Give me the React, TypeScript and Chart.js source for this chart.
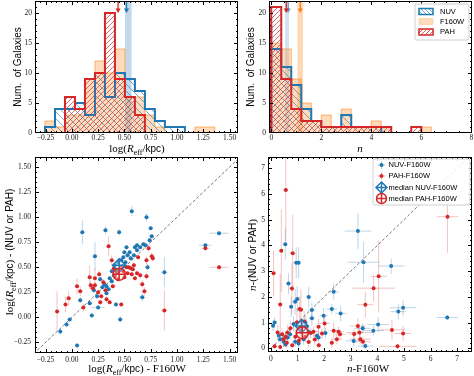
import React, { useEffect, useRef } from 'react';
import { Chart, registerables } from 'chart.js';

Chart.register(...registerables);

// ---------------- data ----------------
const LOGR_BIN_EDGES = [-0.35, -0.255, -0.16, -0.065, 0.03, 0.125, 0.22, 0.315, 0.41, 0.505, 0.6, 0.695, 0.79, 0.885, 0.98, 1.075, 1.17, 1.265, 1.36, 1.455, 1.55];
const LOGR_NUV_COUNTS = [1, 0, 1, 4, 4, 5, 3, 10, 6, 10, 9, 7, 4, 2, 1, 1, 0, 0, 0, 0];
const LOGR_F160_COUNTS = [0, 0, 2, 1, 3, 3, 9, 12, 10, 14, 6, 6, 3, 1, 0, 0, 0, 1, 1, 0];
const LOGR_PAH_COUNTS = [0, 0, 0, 0, 6, 4, 9, 10, 20, 9, 6, 3, 0, 0, 0, 0, 0, 0, 0, 0];

const N_BIN_EDGES = [0, 0.4, 0.8, 1.2, 1.6, 2.0, 2.4, 2.8, 3.2, 3.6, 4.0, 4.4, 4.8, 5.2, 5.6, 6.0, 6.4, 6.8, 7.2, 7.6, 8.0];
const N_NUV_COUNTS = [18, 14, 11, 8, 4, 2, 1, 1, 3, 1, 1, 1, 0, 0, 0, 0, 0, 0, 0, 0];
const N_F160_COUNTS = [5, 15, 14, 9, 5, 2, 3, 1, 4, 1, 1, 2, 1, 0, 0, 0, 1, 0, 0, 0];
const N_PAH_COUNTS = [20, 21, 9, 4, 2, 2, 1, 1, 1, 1, 1, 1, 1, 0, 0, 1, 0, 0, 0, 0];

const LOGR_MEDIAN_NUV = 0.52;
const LOGR_MEDIAN_PAH = 0.44;
const LOGR_NUV_BAND = [0.505, 0.57];
const N_MEDIAN_NUV = 0.68;
const N_MEDIAN_PAH = 0.6;
const N_MEDIAN_F160 = 1.16;
const N_NUV_BAND = [0.55, 0.72];
const N_F160_BAND = [1.04, 1.28];

const LOGR_TICKS = [-0.25, 0, 0.25, 0.5, 0.75, 1.0, 1.25, 1.5];
const LOGR_TICK_LABELS = ['\u22120.25', '0.00', '0.25', '0.50', '0.75', '1.00', '1.25', '1.50'];
const COUNT_TICKS = [0, 5, 10, 15, 20];
const COUNT_TICK_LABELS = ['0', '5', '10', '15', '20'];
const NHIST_TICKS = [0, 2, 4, 6, 8];
const NHIST_TICK_LABELS = ['0', '2', '4', '6', '8'];
const N_TICKS = [0, 1, 2, 3, 4, 5, 6, 7];
const N_TICK_LABELS = ['0', '1', '2', '3', '4', '5', '6', '7'];

// log(Reff) scatter: NUV vs F160W
const BL_NUV_X = [-0.11, -0.05, -0.02, 0.05, 0.08, 0.10, 0.17, 0.19, 0.22, 0.25, 0.24, 0.32, 0.33, 0.33, 0.38, 0.40, 0.42, 0.45, 0.46, 0.50, 0.52, 0.55, 0.57, 0.59, 0.60, 0.62, 0.65, 0.68, 0.70, 0.71, 0.72, 0.74, 0.75, 0.76, 0.67, 0.88, 1.27, 1.40, 0.27, 0.31, 0.36, 0.42, 0.44, 0.47, 0.49, 0.53, 0.56, 0.35, 0.29, 0.41, 0.21, 0.62, 0.51, 0.38];
const BL_NUV_Y = [-0.14, -0.07, -0.02, -0.28, 0.17, 0.85, 0.14, 0.02, 0.61, 0.10, 0.21, 0.87, 0.24, 0.31, 0.36, 0.42, 0.13, 0.85, -0.02, 0.65, 0.70, 0.65, 1.06, 0.62, 0.70, 0.67, 0.70, 0.73, 0.72, 1.00, 0.50, 0.77, 0.89, 0.81, 0.20, 0.45, 0.72, 0.84, 0.38, 0.33, 0.39, 0.47, 0.55, 0.57, 0.60, 0.62, 0.59, 0.28, 0.30, 0.52, 0.27, 0.72, 0.55, 0.46];
const BL_NUV_XERR = [0.02, 0.02, 0.02, 0.02, 0.02, 0.02, 0.02, 0.02, 0.02, 0.06, 0.02, 0.02, 0.02, 0.02, 0.02, 0.02, 0.02, 0.02, 0.02, 0.02, 0.02, 0.02, 0.02, 0.02, 0.02, 0.02, 0.02, 0.02, 0.02, 0.02, 0.02, 0.02, 0.02, 0.02, 0.03, 0.03, 0.06, 0.09, 0.02, 0.02, 0.02, 0.02, 0.02, 0.02, 0.02, 0.02, 0.02, 0.02, 0.02, 0.02, 0.02, 0.02, 0.02, 0.02];
const BL_NUV_YERR = [0.03, 0.02, 0.02, 0.02, 0.03, 0.12, 0.02, 0.03, 0.14, 0.02, 0.03, 0.04, 0.02, 0.02, 0.02, 0.03, 0.02, 0.03, 0.03, 0.02, 0.02, 0.02, 0.05, 0.02, 0.02, 0.02, 0.02, 0.02, 0.03, 0.04, 0.03, 0.02, 0.02, 0.02, 0.04, 0.15, 0.02, 0.02, 0.02, 0.02, 0.02, 0.02, 0.02, 0.02, 0.02, 0.02, 0.02, 0.02, 0.02, 0.02, 0.02, 0.02, 0.02, 0.02];
// log(Reff) scatter: PAH vs F160W
const BL_PAH_X = [-0.14, -0.06, -0.03, 0.05, 0.08, 0.11, 0.17, 0.18, 0.22, 0.22, 0.26, 0.25, 0.27, 0.30, 0.33, 0.35, 0.36, 0.38, 0.40, 0.41, 0.43, 0.47, 0.49, 0.52, 0.54, 0.56, 0.59, 0.62, 0.65, 0.67, 0.69, 0.71, 0.73, 0.76, 0.77, 0.71, 0.88, 1.27, 1.40, 0.57, 0.60, 0.46, 0.50, 0.53, 0.44, 0.39, 0.32, 0.28, 0.58, 0.20, 0.48, 0.63];
const BL_PAH_Y = [0.06, 0.13, 0.19, 0.31, 0.26, 0.10, 0.40, 0.32, 0.32, 0.39, 0.43, 0.25, 0.15, 0.35, 0.18, 0.71, 0.15, 0.57, 0.49, 0.41, 0.45, 0.13, 0.46, 0.50, 0.50, 0.49, 0.52, 0.44, 0.42, 0.33, 0.26, 0.57, 0.69, 0.61, 0.59, 0.41, 0.07, 0.69, 0.50, 0.43, 0.39, 0.47, 0.40, 0.44, 0.38, 0.31, 0.27, 0.21, 0.48, 0.29, 0.51, 0.60];
const BL_PAH_XERR = [0.02, 0.02, 0.02, 0.02, 0.02, 0.02, 0.02, 0.02, 0.02, 0.02, 0.02, 0.02, 0.02, 0.02, 0.02, 0.02, 0.02, 0.02, 0.02, 0.02, 0.02, 0.02, 0.02, 0.02, 0.02, 0.02, 0.02, 0.02, 0.02, 0.02, 0.02, 0.02, 0.02, 0.02, 0.02, 0.02, 0.03, 0.04, 0.09, 0.02, 0.02, 0.02, 0.02, 0.02, 0.02, 0.02, 0.02, 0.02, 0.02, 0.02, 0.02, 0.02];
const BL_PAH_YERR = [0.2, 0.08, 0.07, 0.08, 0.05, 0.04, 0.12, 0.04, 0.03, 0.1, 0.04, 0.03, 0.03, 0.03, 0.03, 0.1, 0.02, 0.05, 0.03, 0.03, 0.02, 0.02, 0.02, 0.02, 0.02, 0.02, 0.02, 0.02, 0.03, 0.04, 0.04, 0.04, 0.04, 0.04, 0.03, 0.03, 0.2, 0.02, 0.02, 0.02, 0.02, 0.02, 0.02, 0.02, 0.02, 0.02, 0.02, 0.02, 0.02, 0.02, 0.02, 0.02];
const BL_MEDIAN_NUV = [0.45, 0.52];
const BL_MEDIAN_PAH = [0.45, 0.43];

// Sersic n scatter: NUV vs F160W
const BR_NUV_X = [0.54, 0.95, 1.04, 0.66, 0.76, 0.91, 0.99, 1.42, 2.36, 1.54, 1.98, 2.29, 2.62, 3.27, 3.48, 4.52, 4.97, 4.79, 6.63, 4.03, 3.85, 3.45, 3.11, 3.55, 0.08, 0.14, 0.35, 0.48, 0.63, 0.91, 1.04, 1.23, 1.42, 1.73, 1.79, 1.29, 1.54, 0.55, 0.72, 0.30, 1.10, 0.85, 2.05];
const BR_NUV_Y = [4.05, 3.33, 3.33, 2.52, 1.62, 1.81, 1.92, 2.0, 2.2, 1.49, 1.27, 1.53, 1.36, 4.56, 3.35, 3.20, 1.58, 1.43, 1.20, 0.93, 0.69, 0.78, 0.29, 0.09, 0.88, 1.01, 0.36, 0.26, 0.42, 0.26, 0.19, 0.36, 0.65, 0.49, 0.42, 1.01, 1.17, 0.15, 0.55, 0.50, 0.80, 0.95, 0.60];
const BR_NUV_XERR = [0.08, 0.1, 0.1, 0.08, 0.08, 0.1, 0.1, 0.1, 0.2, 0.15, 0.15, 0.2, 0.2, 0.5, 0.6, 0.5, 0.5, 0.3, 0.4, 0.4, 0.4, 0.3, 0.3, 0.3, 0.05, 0.05, 0.05, 0.05, 0.05, 0.1, 0.1, 0.1, 0.1, 0.1, 0.1, 0.1, 0.1, 0.05, 0.05, 0.05, 0.1, 0.1, 0.1];
const BR_NUV_YERR = [0.6, 0.6, 0.6, 0.4, 0.4, 0.5, 0.5, 0.4, 0.3, 0.3, 0.3, 0.2, 0.3, 0.7, 0.8, 0.3, 0.3, 0.3, 0.1, 0.3, 0.2, 0.2, 0.2, 0.1, 0.2, 0.2, 0.2, 0.2, 0.2, 0.2, 0.2, 0.2, 0.2, 0.2, 0.2, 0.3, 0.3, 0.1, 0.2, 0.2, 0.3, 0.3, 0.2];
// Sersic n scatter: PAH vs F160W
const BR_PAH_X = [0.56, 0.39, 0.10, 0.35, 0.82, 0.79, 1.08, 1.13, 6.64, 4.05, 3.86, 3.55, 4.55, 4.97, 4.76, 3.27, 3.33, 3.36, 3.46, 3.13, 2.54, 2.36, 2.48, 2.29, 2.02, 1.79, 1.60, 1.33, 1.92, 0.25, 0.42, 0.48, 0.60, 0.73, 0.80, 0.92, 0.98, 1.29, 1.42, 1.50, 0.14, 0.62, 1.05, 1.65, 0.55, 1.12, 0.35, 1.80, 2.60, 1.25];
const BR_PAH_Y = [6.16, 3.80, 2.92, 1.71, 3.70, 2.33, 1.53, 1.50, 5.12, 2.80, 2.34, 1.70, 0.72, 0.58, 0.08, 0.87, 0.62, 0.36, 0.26, 0.56, 0.65, 0.69, 0.36, 0.22, 0.97, 0.84, 0.65, 0.84, 0.58, 0.62, 0.55, 0.35, 0.22, 0.78, 0.12, 0.45, 1.02, 0.45, 0.25, 0.60, 0.08, 0.62, 0.30, 0.35, 0.45, 0.70, 0.05, 0.12, 0.55, 1.05];
const BR_PAH_XERR = [0.1, 0.08, 0.05, 0.06, 0.1, 0.1, 0.15, 0.1, 0.4, 0.3, 0.8, 0.3, 0.5, 0.3, 0.7, 0.3, 0.5, 0.4, 0.3, 0.2, 0.2, 0.2, 0.2, 0.1, 0.2, 0.1, 0.2, 0.1, 0.1, 0.05, 0.05, 0.05, 0.05, 0.08, 0.05, 0.1, 0.1, 0.1, 0.1, 0.1, 0.05, 0.05, 0.1, 0.1, 0.05, 0.1, 0.05, 0.1, 0.2, 0.1];
const BR_PAH_YERR = [2.0, 1.6, 0.9, 1.2, 1.5, 1.0, 0.5, 0.8, 1.4, 1.4, 0.5, 0.5, 0.4, 0.3, 0.1, 0.3, 0.2, 0.2, 0.2, 0.2, 0.2, 0.3, 0.2, 0.2, 0.3, 0.3, 0.2, 0.3, 0.2, 0.3, 0.2, 0.3, 0.2, 0.3, 0.1, 0.3, 0.5, 0.2, 0.2, 0.2, 0.1, 0.3, 0.2, 0.2, 0.2, 0.3, 0.1, 0.1, 0.2, 0.4];
const BR_MEDIAN_NUV = [1.16, 0.87];
const BR_MEDIAN_PAH = [1.18, 0.61];

// ---------------- style ----------------
const BLUE = '#1f77b4';
const ORANGE = '#ff7f0e';
const RED = '#d62728';
const SERIF = '"Liberation Serif", "DejaVu Serif", serif';
const SANS = '"Liberation Sans", "DejaVu Sans", sans-serif';

type Seg = { t: string; f: string; dy?: number };

const logRSegs = (s: number): Seg[] => [
  { t: 'log(', f: `${s}px ${SERIF}` },
  { t: 'R', f: `italic ${s}px ${SERIF}` },
  { t: 'eff', f: `${Math.round(s * 0.7)}px ${SERIF}`, dy: s * 0.28 },
  { t: '/', f: `${s}px ${SERIF}` },
  { t: 'kpc', f: `${s - 1}px ${SANS}` },
  { t: ')', f: `${s}px ${SERIF}` },
];

function hatch(ctx: CanvasRenderingContext2D, color: string, sp: number, dir: string, lw: number) {
  const p = document.createElement('canvas');
  p.width = sp;
  p.height = sp;
  const g = p.getContext('2d')!;
  g.strokeStyle = color;
  g.lineWidth = lw;
  g.beginPath();
  if (dir === '/') {
    g.moveTo(0, sp); g.lineTo(sp, 0);
    g.moveTo(-1, 1); g.lineTo(1, -1);
    g.moveTo(sp - 1, sp + 1); g.lineTo(sp + 1, sp - 1);
  } else {
    g.moveTo(0, 0); g.lineTo(sp, sp);
    g.moveTo(-1, sp - 1); g.lineTo(1, sp + 1);
    g.moveTo(sp - 1, -1); g.lineTo(sp + 1, 1);
  }
  g.stroke();
  return ctx.createPattern(p, 'repeat')!;
}

function stepPoints(edges: number[], counts: number[]) {
  const pts: any[] = [{ x: edges[0], y: 0 }];
  counts.forEach((c, i) => pts.push({ x: edges[i], y: c }));
  pts.push({ x: edges[edges.length - 1], y: 0 });
  return pts;
}

function errPoints(xs: number[], ys: number[], xe: number[], ye: number[]) {
  const pts: any[] = [];
  xs.forEach((x, i) => {
    const y = ys[i];
    const ey = ye[i] || 0;
    const ex = xe[i] || 0;
    pts.push({ x, y: y - ey }, { x, y: y + ey }, { x, y: null });
    pts.push({ x: x - ex, y }, { x: x + ex, y }, { x, y: null });
  });
  return pts;
}

function scale(pos: string, min: number, max: number, ticks: number[], labels: string[], size: number, pad: number) {
  return {
    type: 'linear',
    position: pos,
    min,
    max,
    afterBuildTicks: (s: any) => { s.ticks = ticks.map((v) => ({ value: v })); },
    afterFit: (s: any) => {
      if (pos === 'bottom') s.height = size; else s.width = size;
      s.paddingLeft = 0; s.paddingRight = 0; s.paddingTop = 0; s.paddingBottom = 0;
    },
    grid: { display: false, drawTicks: false },
    border: { display: false },
    ticks: {
      autoSkip: false, maxRotation: 0, minRotation: 0, padding: pad, color: '#1a1a1a',
      font: { family: SERIF, size: 7.5 },
      callback: (_v: any, i: number) => labels[i],
    },
  };
}

function framePlugin(xMinor: number, yMinor: number) {
  return {
    id: 'frameTicks',
    afterDatasetsDraw(chart: any) {
      const { ctx, chartArea: a } = chart;
      const xs = chart.scales.x, ys = chart.scales.y;
      ctx.save();
      ctx.strokeStyle = '#000';
      ctx.lineWidth = 1;
      const seg = (x1: number, y1: number, x2: number, y2: number) => { ctx.beginPath(); ctx.moveTo(x1, y1); ctx.lineTo(x2, y2); ctx.stroke(); };
      const minor = (s: any, st: number) => { const out: number[] = []; const k0 = Math.ceil(s.min / st - 1e-9), k1 = Math.floor(s.max / st + 1e-9); for (let k = k0; k <= k1; k++) out.push(k * st); return out; };
      const xt = (v: number, l: number) => { const p = Math.round(xs.getPixelForValue(v)) + 0.5; if (p < a.left || p > a.right) return; seg(p, a.bottom, p, a.bottom - l); seg(p, a.top, p, a.top + l); };
      const yt = (v: number, l: number) => { const p = Math.round(ys.getPixelForValue(v)) + 0.5; if (p < a.top || p > a.bottom) return; seg(a.left, p, a.left + l, p); seg(a.right, p, a.right - l, p); };
      minor(xs, xMinor).forEach((v) => xt(v, 2));
      xs.ticks.forEach((t: any) => xt(t.value, 4));
      minor(ys, yMinor).forEach((v) => yt(v, 2));
      ys.ticks.forEach((t: any) => yt(t.value, 4));
      ctx.strokeRect(Math.round(a.left) + 0.5, Math.round(a.top) + 0.5, Math.round(a.width) - 1, Math.round(a.height) - 1);
      ctx.restore();
    },
  };
}

function drawRich(ctx: CanvasRenderingContext2D, segs: Seg[], x: number, y: number, rot: boolean) {
  ctx.save();
  ctx.translate(x, y);
  if (rot) ctx.rotate(-Math.PI / 2);
  const w = segs.map((s) => { ctx.font = s.f; return ctx.measureText(s.t).width; });
  let cx = -w.reduce((a, b) => a + b, 0) / 2;
  ctx.fillStyle = '#000';
  ctx.textBaseline = 'alphabetic';
  segs.forEach((s, i) => { ctx.font = s.f; ctx.fillText(s.t, cx, 4 + (s.dy || 0)); cx += w[i]; });
  ctx.restore();
}

function titlesPlugin(titles: { segs: Seg[]; x: number; y: number; rot: boolean }[]) {
  return {
    id: 'richTitles',
    afterDraw(chart: any) {
      titles.forEach((t) => drawRich(chart.ctx, t.segs, t.x, t.y, t.rot));
    },
  };
}

function legendBox(ctx: CanvasRenderingContext2D, x: number, y: number, w: number, h: number) {
  ctx.save();
  ctx.beginPath();
  const r = 2;
  ctx.moveTo(x + r, y); ctx.lineTo(x + w - r, y); ctx.quadraticCurveTo(x + w, y, x + w, y + r);
  ctx.lineTo(x + w, y + h - r); ctx.quadraticCurveTo(x + w, y + h, x + w - r, y + h);
  ctx.lineTo(x + r, y + h); ctx.quadraticCurveTo(x, y + h, x, y + h - r);
  ctx.lineTo(x, y + r); ctx.quadraticCurveTo(x, y, x + r, y);
  ctx.closePath();
  ctx.fillStyle = 'rgba(255,255,255,0.85)';
  ctx.fill();
  ctx.strokeStyle = '#d0d0d0';
  ctx.lineWidth = 1;
  ctx.stroke();
  ctx.restore();
}

function legendText(ctx: CanvasRenderingContext2D, t: string, x: number, y: number) {
  ctx.save();
  ctx.font = `7.5px ${SANS}`;
  ctx.fillStyle = '#000';
  ctx.textBaseline = 'middle';
  ctx.fillText(t, x, y);
  ctx.restore();
}

// ---------------- chart builders ----------------
const baseOptions = (padding: any, scales: any) => ({
  responsive: false,
  animation: false,
  devicePixelRatio: 1,
  events: [],
  layout: { padding, autoPadding: false },
  plugins: { legend: { display: false }, tooltip: { enabled: false }, title: { display: false } },
  elements: { line: { tension: 0 } },
  scales,
});

function histDatasets(ctx: CanvasRenderingContext2D, edges: number[], nuv: number[], f160: number[], pah: number[]) {
  const blueHatch = hatch(ctx, 'rgba(31,119,180,0.75)', 7, '\\', 0.8);
  const redHatch = hatch(ctx, 'rgba(214,39,40,0.85)', 5, '/', 0.8);
  return [
    { label: 'PAH', data: stepPoints(edges, pah), stepped: 'after', fill: 'origin', backgroundColor: redHatch, borderColor: RED, borderWidth: 2, pointRadius: 0, borderJoinStyle: 'miter', order: 2 },
    { label: 'NUV', data: stepPoints(edges, nuv), stepped: 'after', fill: 'origin', backgroundColor: blueHatch, borderColor: BLUE, borderWidth: 2, pointRadius: 0, borderJoinStyle: 'miter', order: 3 },
    { label: 'F160W', data: stepPoints(edges, f160), stepped: 'after', fill: 'origin', backgroundColor: 'rgba(255,127,14,0.28)', borderColor: 'rgba(255,127,14,0.55)', borderWidth: 1, pointRadius: 0, borderJoinStyle: 'miter', order: 4 },
  ];
}

function band(label: string, b: number[], top: number, color: string) {
  return { label, data: [{ x: b[0], y: top }, { x: b[1], y: top }], fill: 'origin', backgroundColor: color, borderWidth: 0, pointRadius: 0, order: 6 };
}

function arrow(label: string, x: number, top: number, head: number, color: string) {
  return { label, data: [{ x, y: top }, { x, y: head }], fill: false, borderColor: color, borderWidth: 1.3, pointRadius: [0, 3], pointStyle: 'triangle', pointRotation: 180, pointBackgroundColor: color, pointBorderColor: color, pointBorderWidth: 0, order: 0 };
}

function scatterDatasets(nx: number[], ny: number[], nxe: number[], nye: number[], px: number[], py: number[], pxe: number[], pye: number[], medN: number[], medP: number[], diag: number[]) {
  return [
    { label: 'median PAH-F160W cross', data: [{ x: medP[0], y: medP[1] }], showLine: false, pointStyle: 'cross', pointRadius: 6, pointBorderColor: RED, pointBorderWidth: 1.5, order: 0 },
    { label: 'median PAH-F160W', data: [{ x: medP[0], y: medP[1] }], showLine: false, pointStyle: 'circle', pointRadius: 6, pointBorderColor: RED, pointBorderWidth: 1.6, pointBackgroundColor: 'rgba(255,255,255,0.3)', order: 1 },
    { label: 'median NUV-F160W cross', data: [{ x: medN[0], y: medN[1] }], showLine: false, pointStyle: 'cross', pointRadius: 6.5, pointBorderColor: BLUE, pointBorderWidth: 1.5, order: 2 },
    { label: 'median NUV-F160W', data: [{ x: medN[0], y: medN[1] }], showLine: false, pointStyle: 'rectRot', pointRadius: 6.5, pointBorderColor: BLUE, pointBorderWidth: 1.6, pointBackgroundColor: 'rgba(255,255,255,0.3)', order: 3 },
    { label: 'PAH-F160W', data: px.map((x, i) => ({ x, y: py[i] })), showLine: false, pointStyle: 'circle', pointRadius: 2, pointBorderWidth: 0, pointBackgroundColor: RED, order: 5 },
    { label: 'NUV-F160W', data: nx.map((x, i) => ({ x, y: ny[i] })), showLine: false, pointStyle: 'circle', pointRadius: 2, pointBorderWidth: 0, pointBackgroundColor: BLUE, order: 6 },
    { label: 'PAH err', data: errPoints(px, py, pxe, pye), borderColor: 'rgba(214,39,40,0.28)', borderWidth: 1, pointRadius: 0, fill: false, spanGaps: false, order: 10 },
    { label: 'NUV err', data: errPoints(nx, ny, nxe, nye), borderColor: 'rgba(31,119,180,0.3)', borderWidth: 1, pointRadius: 0, fill: false, spanGaps: false, order: 11 },
    { label: 'one-to-one', data: [{ x: diag[0], y: diag[0] }, { x: diag[1], y: diag[1] }], borderColor: '#555', borderWidth: 0.8, borderDash: [3, 2], pointRadius: 0, fill: false, order: 12 },
  ];
}

const topLeftConfig = (ctx: CanvasRenderingContext2D) => ({
  type: 'line',
  data: {
    datasets: [
      arrow('median PAH', LOGR_MEDIAN_PAH, 22, 20.5, RED),
      arrow('median NUV', LOGR_MEDIAN_NUV, 22, 20.5, BLUE),
      ...histDatasets(ctx, LOGR_BIN_EDGES, LOGR_NUV_COUNTS, LOGR_F160_COUNTS, LOGR_PAH_COUNTS),
      band('NUV band', LOGR_NUV_BAND, 22, 'rgba(31,119,180,0.28)'),
    ],
  },
  options: baseOptions({ left: 0, top: 1, right: 2, bottom: 0 }, {
    x: scale('bottom', -0.35, 1.58, LOGR_TICKS, LOGR_TICK_LABELS, 24, 1),
    y: scale('left', 0, 22, COUNT_TICKS, COUNT_TICK_LABELS, 35, 3),
  }),
  plugins: [
    framePlugin(0.05, 1),
    titlesPlugin([
      { segs: logRSegs(11), x: 137, y: 148, rot: false },
      { segs: [{ t: 'Num.  of Galaxies', f: `10px ${SANS}` }], x: 17, y: 67, rot: true },
    ]),
  ],
});

const topRightConfig = (ctx: CanvasRenderingContext2D) => {
  const blueHatch = hatch(ctx, 'rgba(31,119,180,0.75)', 4, '\\', 0.8);
  const redHatch = hatch(ctx, 'rgba(214,39,40,0.85)', 4, '/', 0.9);
  return {
    type: 'line',
    data: {
      datasets: [
        arrow('median PAH', N_MEDIAN_PAH, 22, 20.5, RED),
        arrow('median NUV', N_MEDIAN_NUV, 22, 20.5, 'rgba(31,119,180,0.6)'),
        arrow('median F160W', N_MEDIAN_F160, 22, 20.5, ORANGE),
        ...histDatasets(ctx, N_BIN_EDGES, N_NUV_COUNTS, N_F160_COUNTS, N_PAH_COUNTS),
        band('NUV band', N_NUV_BAND, 22, 'rgba(31,119,180,0.2)'),
        band('F160W band', N_F160_BAND, 22, 'rgba(255,127,14,0.3)'),
      ],
    },
    options: baseOptions({ left: 0, top: 1, right: 2, bottom: 0 }, {
      x: scale('bottom', -0.09, 8.03, NHIST_TICKS, NHIST_TICK_LABELS, 24, 1),
      y: scale('left', 0, 22, COUNT_TICKS, COUNT_TICK_LABELS, 29, 3),
    }),
    plugins: [
      framePlugin(0.5, 1),
      titlesPlugin([
        { segs: [{ t: 'n', f: `italic 11px ${SERIF}` }], x: 120, y: 148, rot: false },
        { segs: [{ t: 'Num.  of Galaxies', f: `10px ${SANS}` }], x: 10, y: 67, rot: true },
      ]),
      {
        id: 'histLegend',
        afterDraw(chart: any) {
          const c = chart.ctx as CanvasRenderingContext2D;
          legendBox(c, 175, 4, 54, 36);
          const rows = [
            { t: 'NUV', y: 11.5, fill: blueHatch as any, stroke: BLUE, lw: 1.5 },
            { t: 'F160W', y: 21.5, fill: 'rgba(255,127,14,0.28)', stroke: 'rgba(255,127,14,0.2)', lw: 1 },
            { t: 'PAH', y: 32, fill: redHatch as any, stroke: RED, lw: 1.5 },
          ];
          rows.forEach((r) => {
            c.save();
            c.fillStyle = r.fill;
            c.fillRect(179, r.y - 3, 14, 6);
            c.strokeStyle = r.stroke;
            c.lineWidth = r.lw;
            c.strokeRect(179, r.y - 3, 14, 6);
            c.restore();
            legendText(c, r.t, 200, r.y);
          });
        },
      },
    ],
  };
};

const bottomLeftConfig = () => ({
  type: 'line',
  data: {
    datasets: scatterDatasets(BL_NUV_X, BL_NUV_Y, BL_NUV_XERR, BL_NUV_YERR, BL_PAH_X, BL_PAH_Y, BL_PAH_XERR, BL_PAH_YERR, BL_MEDIAN_NUV, BL_MEDIAN_PAH, [-0.5, 1.8]),
  },
  options: baseOptions({ left: 0, top: 1, right: 2, bottom: 0 }, {
    x: scale('bottom', -0.35, 1.58, LOGR_TICKS, LOGR_TICK_LABELS, 23, 3),
    y: scale('left', -0.355, 1.6, LOGR_TICKS, LOGR_TICK_LABELS, 35, 4),
  }),
  plugins: [
    framePlugin(0.05, 0.05),
    titlesPlugin([
      { segs: [...logRSegs(11), { t: ' - F160W', f: `11px ${SERIF}` }], x: 137, y: 212, rot: false },
      { segs: [...logRSegs(11), { t: ' - ', f: `11px ${SERIF}` }, { t: '(NUV or PAH)', f: `10px ${SANS}` }], x: 9, y: 96, rot: true },
    ]),
  ],
});

const bottomRightConfig = () => ({
  type: 'line',
  data: {
    datasets: scatterDatasets(BR_NUV_X, BR_NUV_Y, BR_NUV_XERR, BR_NUV_YERR, BR_PAH_X, BR_PAH_Y, BR_PAH_XERR, BR_PAH_YERR, BR_MEDIAN_NUV, BR_MEDIAN_PAH, [0, 8]),
  },
  options: baseOptions({ left: 0, top: 1, right: 2, bottom: 0 }, {
    x: scale('bottom', -0.11, 7.56, N_TICKS, N_TICK_LABELS, 24, 3),
    y: scale('left', -0.14, 7.44, N_TICKS, N_TICK_LABELS, 28, 3),
  }),
  plugins: [
    framePlugin(0.2, 0.2),
    titlesPlugin([
      { segs: [{ t: 'n', f: `italic 11px ${SERIF}` }, { t: '-F160W', f: `11px ${SERIF}` }], x: 128, y: 212, rot: false },
      { segs: [{ t: 'n', f: `italic 11px ${SERIF}` }, { t: '-(', f: `11px ${SERIF}` }, { t: 'NUV or PAH', f: `10px ${SANS}` }, { t: ')', f: `11px ${SERIF}` }], x: 12, y: 99, rot: true },
    ]),
    {
      id: 'scatterLegend',
      afterDraw(chart: any) {
        const c = chart.ctx as CanvasRenderingContext2D;
        legendBox(c, 133, 3, 97, 46);
        const mx = 141.5, tx = 148.5;
        const rows = [9, 20, 31.5, 42.5];
        const small = (y: number, col: string, ecol: string) => {
          c.save();
          c.strokeStyle = ecol; c.lineWidth = 1;
          c.beginPath(); c.moveTo(mx - 4, y); c.lineTo(mx + 4, y); c.moveTo(mx, y - 4); c.lineTo(mx, y + 4); c.stroke();
          c.fillStyle = col; c.beginPath(); c.arc(mx, y, 2, 0, Math.PI * 2); c.fill();
          c.restore();
        };
        small(rows[0], BLUE, 'rgba(31,119,180,0.35)');
        small(rows[1], RED, 'rgba(214,39,40,0.35)');
        c.save();
        c.lineWidth = 1.5;
        c.strokeStyle = BLUE;
        const r = 5.5;
        let y = rows[2];
        c.beginPath(); c.moveTo(mx, y - r); c.lineTo(mx + r, y); c.lineTo(mx, y + r); c.lineTo(mx - r, y); c.closePath(); c.stroke();
        c.beginPath(); c.moveTo(mx - r, y); c.lineTo(mx + r, y); c.moveTo(mx, y - r); c.lineTo(mx, y + r); c.stroke();
        y = rows[3];
        c.strokeStyle = RED;
        c.beginPath(); c.arc(mx, y, 5, 0, Math.PI * 2); c.stroke();
        c.beginPath(); c.moveTo(mx - 5, y); c.lineTo(mx + 5, y); c.moveTo(mx, y - 5); c.lineTo(mx, y + 5); c.stroke();
        c.restore();
        legendText(c, 'NUV-F160W', tx, rows[0]);
        legendText(c, 'PAH-F160W', tx, rows[1]);
        legendText(c, 'median NUV-F160W', tx, rows[2]);
        legendText(c, 'median PAH-F160W', tx, rows[3]);
      },
    },
  ],
});

// ---------------- components ----------------
function Panel(props: { left: number; top: number; width: number; height: number; make: (ctx: CanvasRenderingContext2D) => any }) {
  const ref = useRef<HTMLCanvasElement>(null);
  useEffect(() => {
    const canvas = ref.current!;
    const ctx = canvas.getContext('2d')!;
    const chart = new Chart(ctx, props.make(ctx));
    return () => chart.destroy();
  }, []);
  return (
    <canvas
      ref={ref}
      width={props.width}
      height={props.height}
      style={{ position: 'absolute', left: props.left, top: props.top, width: props.width, height: props.height }}
    />
  );
}

export default function App() {
  return (
    <div style={{ position: 'absolute', left: 0, top: 0, width: 474, height: 376, overflow: 'hidden', background: '#fff' }}>
      <Panel left={0} top={0} width={240} height={157} make={topLeftConfig} />
      <Panel left={240} top={0} width={234} height={157} make={topRightConfig} />
      <Panel left={0} top={156} width={240} height={220} make={bottomLeftConfig} />
      <Panel left={240} top={156} width={234} height={220} make={bottomRightConfig} />
    </div>
  );
}
